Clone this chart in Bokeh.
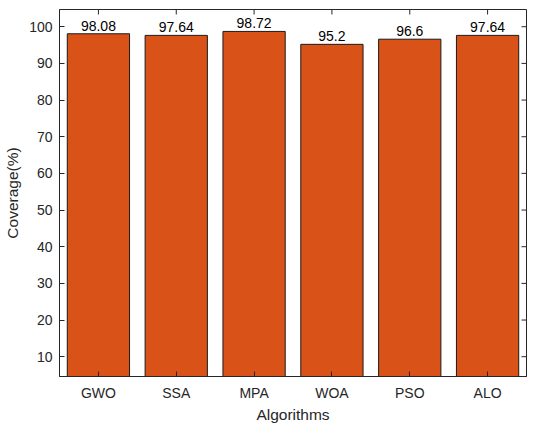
import math
from bokeh.plotting import figure
from bokeh.models import Range1d, FixedTicker, ColumnDataSource
from bokeh.core.properties import value
from bokeh.embed import file_html
from bokeh.resources import INLINE

algorithms = ["GWO", "SSA", "MPA", "WOA", "PSO", "ALO"]
coverage = [98.08, 97.64, 98.72, 95.2, 96.6, 97.64]
labels = ["98.08", "97.64", "98.72", "95.2", "96.6", "97.64"]
y_ticks = [10, 20, 30, 40, 50, 60, 70, 80, 90, 100]

xs = list(range(1, len(algorithms) + 1))
src = ColumnDataSource(dict(x=xs, top=coverage, lab=labels))

FONT = "Liberation Sans"
AX = "#262626"
x_lo, x_hi = 0.5, 6.5
y_lo, y_hi = 4.6, 104.7

p = figure(width=534, height=428, output_backend="svg", toolbar_location=None,
           x_range=Range1d(x_lo, x_hi), y_range=Range1d(y_lo, y_hi),
           min_border_left=59, min_border_top=9, min_border_bottom=52, min_border_right=8)
p.background_fill_color = "white"
p.border_fill_color = "white"
p.outline_line_color = AX
p.grid.visible = False

p.vbar(x="x", top="top", bottom=0, width=0.8, source=src,
       fill_color="#D95319", line_color="#1a1a1a", line_width=1)
p.text(x="x", y="top", text="lab", source=src, text_align="center",
       text_baseline="bottom", y_offset=-3, text_color="black",
       text_font=value(FONT), text_font_size="14px")

# mirrored inward ticks on the top and right edges (box on)
p.ray(x=xs, y=[y_hi] * len(xs), length=5, length_units="screen", angle=-math.pi / 2,
      line_color=AX, line_width=1)
p.ray(x=[x_hi] * len(y_ticks), y=y_ticks, length=5, length_units="screen", angle=math.pi,
      line_color=AX, line_width=1)

p.xaxis.ticker = FixedTicker(ticks=xs)
p.xaxis.major_label_overrides = {i: a for i, a in zip(xs, algorithms)}
p.yaxis.ticker = FixedTicker(ticks=y_ticks)
p.xaxis.axis_label = "Algorithms"
p.yaxis.axis_label = "Coverage(%)"

for ax in [p.xaxis[0], p.yaxis[0]]:
    ax.axis_line_color = AX
    ax.major_tick_line_color = AX
    ax.major_tick_in = 5
    ax.major_tick_out = 0
    ax.minor_tick_line_color = None
    ax.major_label_text_font = FONT
    ax.major_label_text_font_size = "14px"
    ax.major_label_text_color = AX
    ax.axis_label_text_font = FONT
    ax.axis_label_text_font_size = "15.5px"
    ax.axis_label_text_font_style = "normal"
    ax.axis_label_text_color = AX
p.xaxis.major_label_standoff = 8
p.xaxis.axis_label_standoff = 2
p.yaxis.major_label_standoff = 7
p.yaxis.axis_label_standoff = 5

open("out.html", "w").write(file_html(p, INLINE))
